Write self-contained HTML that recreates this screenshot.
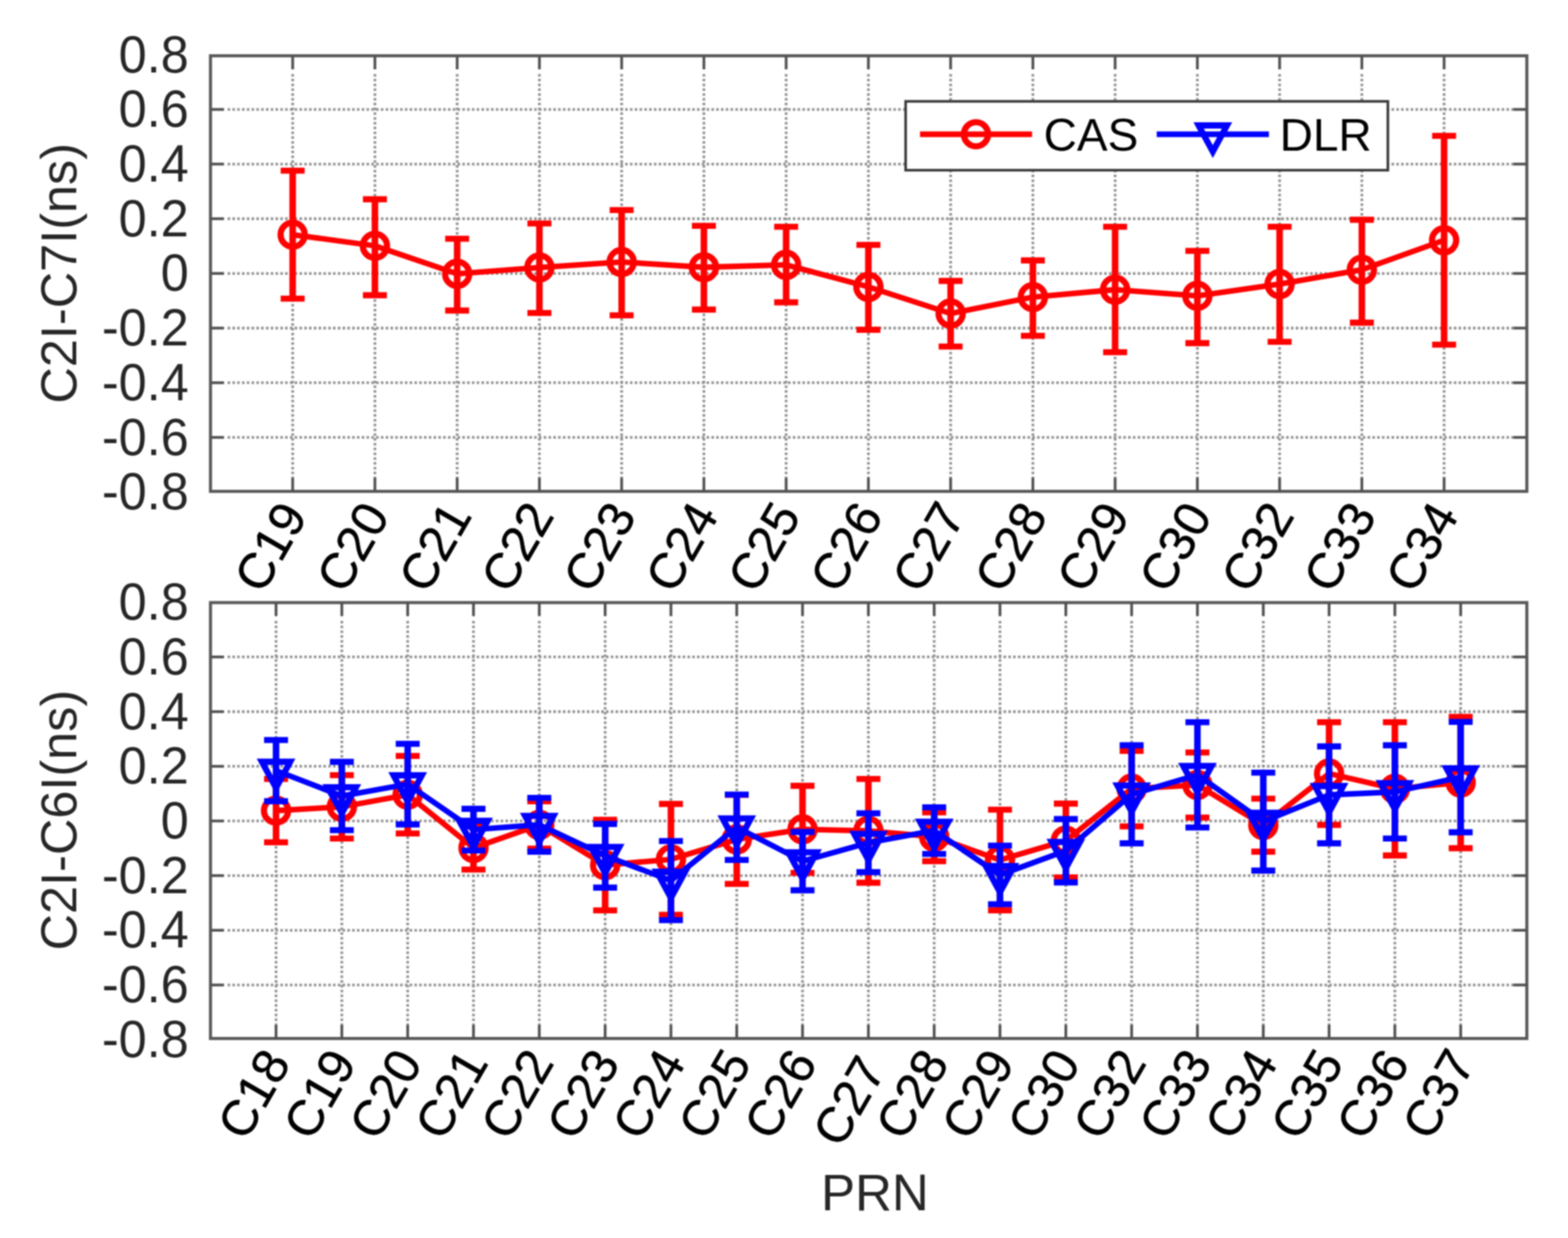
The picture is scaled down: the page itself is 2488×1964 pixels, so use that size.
<!DOCTYPE html>
<html lang="en">
<head>
<meta charset="utf-8">
<title>DCB comparison: C2I-C7I and C2I-C6I by PRN</title>
<style>
html,body{margin:0;padding:0;background:#fff;}
body{width:2488px;height:1964px;overflow:hidden;}
svg{display:block;font-family:"Liberation Sans", sans-serif;filter:blur(1.3px);}
</style>
</head>
<body>
<svg width="2488" height="1964" viewBox="0 0 2488 1964">
<rect width="2488" height="1964" fill="#fff"/>
<!-- top panel -->
<g stroke="#929292" stroke-width="4.3" stroke-dasharray="4 3.6" fill="none">
<line x1="361.2" y1="173.6" x2="2401.2" y2="173.6"/>
<line x1="361.2" y1="260.3" x2="2401.2" y2="260.3"/>
<line x1="361.2" y1="347" x2="2401.2" y2="347"/>
<line x1="361.2" y1="433.8" x2="2401.2" y2="433.8"/>
<line x1="361.2" y1="520.5" x2="2401.2" y2="520.5"/>
<line x1="361.2" y1="607.2" x2="2401.2" y2="607.2"/>
<line x1="361.2" y1="693.9" x2="2401.2" y2="693.9"/>
<line x1="464.4" y1="117.5" x2="464.4" y2="758"/>
<line x1="594.9" y1="117.5" x2="594.9" y2="758"/>
<line x1="725.4" y1="117.5" x2="725.4" y2="758"/>
<line x1="855.9" y1="117.5" x2="855.9" y2="758"/>
<line x1="986.4" y1="117.5" x2="986.4" y2="758"/>
<line x1="1116.9" y1="117.5" x2="1116.9" y2="758"/>
<line x1="1247.4" y1="117.5" x2="1247.4" y2="758"/>
<line x1="1377.9" y1="117.5" x2="1377.9" y2="758"/>
<line x1="1508.4" y1="117.5" x2="1508.4" y2="758"/>
<line x1="1638.9" y1="117.5" x2="1638.9" y2="758"/>
<line x1="1769.4" y1="117.5" x2="1769.4" y2="758"/>
<line x1="1899.9" y1="117.5" x2="1899.9" y2="758"/>
<line x1="2030.4" y1="117.5" x2="2030.4" y2="758"/>
<line x1="2160.9" y1="117.5" x2="2160.9" y2="758"/>
<line x1="2291.4" y1="117.5" x2="2291.4" y2="758"/>
</g>
<rect x="334" y="88.5" width="2088.7" height="691" stroke="#595959" stroke-width="4.9" fill="none"/>
<g stroke="#525252" stroke-width="4.4" fill="none">
<line x1="334" y1="173.6" x2="355.5" y2="173.6"/>
<line x1="2401.2" y1="173.6" x2="2422.7" y2="173.6"/>
<line x1="334" y1="260.3" x2="355.5" y2="260.3"/>
<line x1="2401.2" y1="260.3" x2="2422.7" y2="260.3"/>
<line x1="334" y1="347" x2="355.5" y2="347"/>
<line x1="2401.2" y1="347" x2="2422.7" y2="347"/>
<line x1="334" y1="433.8" x2="355.5" y2="433.8"/>
<line x1="2401.2" y1="433.8" x2="2422.7" y2="433.8"/>
<line x1="334" y1="520.5" x2="355.5" y2="520.5"/>
<line x1="2401.2" y1="520.5" x2="2422.7" y2="520.5"/>
<line x1="334" y1="607.2" x2="355.5" y2="607.2"/>
<line x1="2401.2" y1="607.2" x2="2422.7" y2="607.2"/>
<line x1="334" y1="693.9" x2="355.5" y2="693.9"/>
<line x1="2401.2" y1="693.9" x2="2422.7" y2="693.9"/>
<line x1="464.4" y1="88.5" x2="464.4" y2="110"/>
<line x1="464.4" y1="758" x2="464.4" y2="779.5"/>
<line x1="594.9" y1="88.5" x2="594.9" y2="110"/>
<line x1="594.9" y1="758" x2="594.9" y2="779.5"/>
<line x1="725.4" y1="88.5" x2="725.4" y2="110"/>
<line x1="725.4" y1="758" x2="725.4" y2="779.5"/>
<line x1="855.9" y1="88.5" x2="855.9" y2="110"/>
<line x1="855.9" y1="758" x2="855.9" y2="779.5"/>
<line x1="986.4" y1="88.5" x2="986.4" y2="110"/>
<line x1="986.4" y1="758" x2="986.4" y2="779.5"/>
<line x1="1116.9" y1="88.5" x2="1116.9" y2="110"/>
<line x1="1116.9" y1="758" x2="1116.9" y2="779.5"/>
<line x1="1247.4" y1="88.5" x2="1247.4" y2="110"/>
<line x1="1247.4" y1="758" x2="1247.4" y2="779.5"/>
<line x1="1377.9" y1="88.5" x2="1377.9" y2="110"/>
<line x1="1377.9" y1="758" x2="1377.9" y2="779.5"/>
<line x1="1508.4" y1="88.5" x2="1508.4" y2="110"/>
<line x1="1508.4" y1="758" x2="1508.4" y2="779.5"/>
<line x1="1638.9" y1="88.5" x2="1638.9" y2="110"/>
<line x1="1638.9" y1="758" x2="1638.9" y2="779.5"/>
<line x1="1769.4" y1="88.5" x2="1769.4" y2="110"/>
<line x1="1769.4" y1="758" x2="1769.4" y2="779.5"/>
<line x1="1899.9" y1="88.5" x2="1899.9" y2="110"/>
<line x1="1899.9" y1="758" x2="1899.9" y2="779.5"/>
<line x1="2030.4" y1="88.5" x2="2030.4" y2="110"/>
<line x1="2030.4" y1="758" x2="2030.4" y2="779.5"/>
<line x1="2160.9" y1="88.5" x2="2160.9" y2="110"/>
<line x1="2160.9" y1="758" x2="2160.9" y2="779.5"/>
<line x1="2291.4" y1="88.5" x2="2291.4" y2="110"/>
<line x1="2291.4" y1="758" x2="2291.4" y2="779.5"/>
</g>
<g stroke="#ff0000" stroke-width="9.0" fill="none" stroke-linejoin="miter">
<path stroke-width="10.4" d="M464.4 270.8V473.7M594.9 316.1V468.4M725.4 378.8V492.6M855.9 354.5V496.5M986.4 333.2V500.3M1116.9 358.3V491.1M1247.4 359.8V479.6M1377.9 388.5V523.1M1508.4 445.6V549.7M1638.9 413.1V532.8M1769.4 359.8V558.8M1899.9 398V544.4M2030.4 359.8V542.3M2160.9 348.6V511.9M2291.4 215.5V546.8"/>
<path stroke-width="9.6" d="M445.4 270.8h38M445.4 473.7h38M575.9 316.1h38M575.9 468.4h38M706.4 378.8h38M706.4 492.6h38M836.9 354.5h38M836.9 496.5h38M967.4 333.2h38M967.4 500.3h38M1097.9 358.3h38M1097.9 491.1h38M1228.4 359.8h38M1228.4 479.6h38M1358.9 388.5h38M1358.9 523.1h38M1489.4 445.6h38M1489.4 549.7h38M1619.9 413.1h38M1619.9 532.8h38M1750.4 359.8h38M1750.4 558.8h38M1880.9 398h38M1880.9 544.4h38M2011.4 359.8h38M2011.4 542.3h38M2141.9 348.6h38M2141.9 511.9h38M2272.4 215.5h38M2272.4 546.8h38"/>
<polyline points="464.4,372.3 594.9,390 725.4,434.4 855.9,424.3 986.4,415.7 1116.9,424 1247.4,420.2 1377.9,455.1 1508.4,497.4 1638.9,471.3 1769.4,459.5 1899.9,469.3 2030.4,450.6 2160.9,427.9 2291.4,381.1" stroke-width="8.8" stroke-linejoin="round"/>
<circle cx="464.4" cy="372.3" r="19.2" stroke-width="9.8"/>
<circle cx="594.9" cy="390" r="19.2" stroke-width="9.8"/>
<circle cx="725.4" cy="434.4" r="19.2" stroke-width="9.8"/>
<circle cx="855.9" cy="424.3" r="19.2" stroke-width="9.8"/>
<circle cx="986.4" cy="415.7" r="19.2" stroke-width="9.8"/>
<circle cx="1116.9" cy="424" r="19.2" stroke-width="9.8"/>
<circle cx="1247.4" cy="420.2" r="19.2" stroke-width="9.8"/>
<circle cx="1377.9" cy="455.1" r="19.2" stroke-width="9.8"/>
<circle cx="1508.4" cy="497.4" r="19.2" stroke-width="9.8"/>
<circle cx="1638.9" cy="471.3" r="19.2" stroke-width="9.8"/>
<circle cx="1769.4" cy="459.5" r="19.2" stroke-width="9.8"/>
<circle cx="1899.9" cy="469.3" r="19.2" stroke-width="9.8"/>
<circle cx="2030.4" cy="450.6" r="19.2" stroke-width="9.8"/>
<circle cx="2160.9" cy="427.9" r="19.2" stroke-width="9.8"/>
<circle cx="2291.4" cy="381.1" r="19.2" stroke-width="9.8"/>
</g>
<rect x="1437" y="160.8" width="765.2" height="109.2" fill="#fff" stroke="#3c3c3c" stroke-width="4.2"/>
<g fill="none" stroke-width="9.0">
<path stroke="#ff0000" d="M1459.8 213H1637.6"/><circle stroke="#ff0000" stroke-width="9.8" cx="1548.6" cy="213" r="19.2"/>
<path stroke="#0000ff" d="M1835.4 213H2013.4"/><path stroke="#0000ff" stroke-width="9.8" d="M1901.9 199h45L1924.4 240.5Z"/>
</g>
<g fill="#000" font-size="73"><text x="1656" y="238.8">CAS</text><text x="2030.5" y="238.8">DLR</text></g>
<g class="yt" fill="#262626" font-size="80" text-anchor="end">
<text transform="translate(299.5,114.5) scale(1,1.035)">0.8</text>
<text transform="translate(299.5,201.2) scale(1,1.035)">0.6</text>
<text transform="translate(299.5,287.9) scale(1,1.035)">0.4</text>
<text transform="translate(299.5,374.6) scale(1,1.035)">0.2</text>
<text transform="translate(299.5,461.4) scale(1,1.035)">0</text>
<text transform="translate(299.5,548.1) scale(1,1.035)">-0.2</text>
<text transform="translate(299.5,634.8) scale(1,1.035)">-0.4</text>
<text transform="translate(299.5,721.5) scale(1,1.035)">-0.6</text>
<text transform="translate(299.5,808.3) scale(1,1.035)">-0.8</text>
</g>
<g class="xt" fill="#000000" stroke="#000000" stroke-width="0.7" stroke-linejoin="round" font-size="79" letter-spacing="0.6" text-anchor="end">
<text transform="translate(465,803.3) rotate(-60)" y="28.3">C19</text>
<text transform="translate(595.5,803.3) rotate(-60)" y="28.3">C20</text>
<text transform="translate(726,803.3) rotate(-60)" y="28.3">C21</text>
<text transform="translate(856.5,803.3) rotate(-60)" y="28.3">C22</text>
<text transform="translate(987,803.3) rotate(-60)" y="28.3">C23</text>
<text transform="translate(1117.5,803.3) rotate(-60)" y="28.3">C24</text>
<text transform="translate(1248,803.3) rotate(-60)" y="28.3">C25</text>
<text transform="translate(1378.5,803.3) rotate(-60)" y="28.3">C26</text>
<text transform="translate(1509,803.3) rotate(-60)" y="28.3">C27</text>
<text transform="translate(1639.5,803.3) rotate(-60)" y="28.3">C28</text>
<text transform="translate(1770,803.3) rotate(-60)" y="28.3">C29</text>
<text transform="translate(1900.5,803.3) rotate(-60)" y="28.3">C30</text>
<text transform="translate(2031,803.3) rotate(-60)" y="28.3">C32</text>
<text transform="translate(2161.5,803.3) rotate(-60)" y="28.3">C33</text>
<text transform="translate(2292,803.3) rotate(-60)" y="28.3">C34</text>
</g>
<text class="yl" fill="#262626" font-size="80" text-anchor="middle" transform="translate(121.2,433.5) rotate(-90)">C2I-C7I(ns)</text>
<!-- bottom panel -->
<g stroke="#929292" stroke-width="4.3" stroke-dasharray="4 3.6" fill="none">
<line x1="361.2" y1="1042.2" x2="2401.2" y2="1042.2"/>
<line x1="361.2" y1="1129" x2="2401.2" y2="1129"/>
<line x1="361.2" y1="1215.7" x2="2401.2" y2="1215.7"/>
<line x1="361.2" y1="1302.4" x2="2401.2" y2="1302.4"/>
<line x1="361.2" y1="1389.1" x2="2401.2" y2="1389.1"/>
<line x1="361.2" y1="1475.8" x2="2401.2" y2="1475.8"/>
<line x1="361.2" y1="1562.6" x2="2401.2" y2="1562.6"/>
<line x1="438" y1="985" x2="438" y2="1626"/>
<line x1="542.4" y1="985" x2="542.4" y2="1626"/>
<line x1="646.9" y1="985" x2="646.9" y2="1626"/>
<line x1="751.3" y1="985" x2="751.3" y2="1626"/>
<line x1="855.7" y1="985" x2="855.7" y2="1626"/>
<line x1="960.2" y1="985" x2="960.2" y2="1626"/>
<line x1="1064.6" y1="985" x2="1064.6" y2="1626"/>
<line x1="1169" y1="985" x2="1169" y2="1626"/>
<line x1="1273.4" y1="985" x2="1273.4" y2="1626"/>
<line x1="1377.9" y1="985" x2="1377.9" y2="1626"/>
<line x1="1482.3" y1="985" x2="1482.3" y2="1626"/>
<line x1="1586.7" y1="985" x2="1586.7" y2="1626"/>
<line x1="1691.2" y1="985" x2="1691.2" y2="1626"/>
<line x1="1795.6" y1="985" x2="1795.6" y2="1626"/>
<line x1="1900" y1="985" x2="1900" y2="1626"/>
<line x1="2004.5" y1="985" x2="2004.5" y2="1626"/>
<line x1="2108.9" y1="985" x2="2108.9" y2="1626"/>
<line x1="2213.3" y1="985" x2="2213.3" y2="1626"/>
<line x1="2317.7" y1="985" x2="2317.7" y2="1626"/>
</g>
<rect x="334" y="956" width="2088.7" height="691.5" stroke="#595959" stroke-width="4.9" fill="none"/>
<g stroke="#525252" stroke-width="4.4" fill="none">
<line x1="334" y1="1042.2" x2="355.5" y2="1042.2"/>
<line x1="2401.2" y1="1042.2" x2="2422.7" y2="1042.2"/>
<line x1="334" y1="1129" x2="355.5" y2="1129"/>
<line x1="2401.2" y1="1129" x2="2422.7" y2="1129"/>
<line x1="334" y1="1215.7" x2="355.5" y2="1215.7"/>
<line x1="2401.2" y1="1215.7" x2="2422.7" y2="1215.7"/>
<line x1="334" y1="1302.4" x2="355.5" y2="1302.4"/>
<line x1="2401.2" y1="1302.4" x2="2422.7" y2="1302.4"/>
<line x1="334" y1="1389.1" x2="355.5" y2="1389.1"/>
<line x1="2401.2" y1="1389.1" x2="2422.7" y2="1389.1"/>
<line x1="334" y1="1475.8" x2="355.5" y2="1475.8"/>
<line x1="2401.2" y1="1475.8" x2="2422.7" y2="1475.8"/>
<line x1="334" y1="1562.6" x2="355.5" y2="1562.6"/>
<line x1="2401.2" y1="1562.6" x2="2422.7" y2="1562.6"/>
<line x1="438" y1="956" x2="438" y2="977.5"/>
<line x1="438" y1="1626" x2="438" y2="1647.5"/>
<line x1="542.4" y1="956" x2="542.4" y2="977.5"/>
<line x1="542.4" y1="1626" x2="542.4" y2="1647.5"/>
<line x1="646.9" y1="956" x2="646.9" y2="977.5"/>
<line x1="646.9" y1="1626" x2="646.9" y2="1647.5"/>
<line x1="751.3" y1="956" x2="751.3" y2="977.5"/>
<line x1="751.3" y1="1626" x2="751.3" y2="1647.5"/>
<line x1="855.7" y1="956" x2="855.7" y2="977.5"/>
<line x1="855.7" y1="1626" x2="855.7" y2="1647.5"/>
<line x1="960.2" y1="956" x2="960.2" y2="977.5"/>
<line x1="960.2" y1="1626" x2="960.2" y2="1647.5"/>
<line x1="1064.6" y1="956" x2="1064.6" y2="977.5"/>
<line x1="1064.6" y1="1626" x2="1064.6" y2="1647.5"/>
<line x1="1169" y1="956" x2="1169" y2="977.5"/>
<line x1="1169" y1="1626" x2="1169" y2="1647.5"/>
<line x1="1273.4" y1="956" x2="1273.4" y2="977.5"/>
<line x1="1273.4" y1="1626" x2="1273.4" y2="1647.5"/>
<line x1="1377.9" y1="956" x2="1377.9" y2="977.5"/>
<line x1="1377.9" y1="1626" x2="1377.9" y2="1647.5"/>
<line x1="1482.3" y1="956" x2="1482.3" y2="977.5"/>
<line x1="1482.3" y1="1626" x2="1482.3" y2="1647.5"/>
<line x1="1586.7" y1="956" x2="1586.7" y2="977.5"/>
<line x1="1586.7" y1="1626" x2="1586.7" y2="1647.5"/>
<line x1="1691.2" y1="956" x2="1691.2" y2="977.5"/>
<line x1="1691.2" y1="1626" x2="1691.2" y2="1647.5"/>
<line x1="1795.6" y1="956" x2="1795.6" y2="977.5"/>
<line x1="1795.6" y1="1626" x2="1795.6" y2="1647.5"/>
<line x1="1900" y1="956" x2="1900" y2="977.5"/>
<line x1="1900" y1="1626" x2="1900" y2="1647.5"/>
<line x1="2004.5" y1="956" x2="2004.5" y2="977.5"/>
<line x1="2004.5" y1="1626" x2="2004.5" y2="1647.5"/>
<line x1="2108.9" y1="956" x2="2108.9" y2="977.5"/>
<line x1="2108.9" y1="1626" x2="2108.9" y2="1647.5"/>
<line x1="2213.3" y1="956" x2="2213.3" y2="977.5"/>
<line x1="2213.3" y1="1626" x2="2213.3" y2="1647.5"/>
<line x1="2317.7" y1="956" x2="2317.7" y2="977.5"/>
<line x1="2317.7" y1="1626" x2="2317.7" y2="1647.5"/>
</g>
<g stroke="#ff0000" stroke-width="9.0" fill="none" stroke-linejoin="miter">
<path stroke-width="10.4" d="M438 1235.8V1336.2M542.4 1229.8V1330.2M646.9 1199.2V1322.3M751.3 1310.7V1379.5M855.7 1271.1V1346.3M960.2 1300.6V1444.3M1064.6 1275.4V1451.3M1169 1261V1402.3M1273.4 1246.6V1384.8M1377.9 1235.8V1400.4M1482.3 1288.6V1366.2M1586.7 1284.5V1444.1M1691.2 1274.9V1392M1795.6 1191.3V1311M1900 1193.7V1297M2004.5 1267V1351.1M2108.9 1145.7V1308.6M2213.3 1145.7V1357.1M2317.7 1137.2V1345.6"/>
<path stroke-width="9.6" d="M419 1235.8h38M419 1336.2h38M523.4 1229.8h38M523.4 1330.2h38M627.9 1199.2h38M627.9 1322.3h38M732.3 1310.7h38M732.3 1379.5h38M836.7 1271.1h38M836.7 1346.3h38M941.2 1300.6h38M941.2 1444.3h38M1045.6 1275.4h38M1045.6 1451.3h38M1150 1261h38M1150 1402.3h38M1254.4 1246.6h38M1254.4 1384.8h38M1358.9 1235.8h38M1358.9 1400.4h38M1463.3 1288.6h38M1463.3 1366.2h38M1567.7 1284.5h38M1567.7 1444.1h38M1672.2 1274.9h38M1672.2 1392h38M1776.6 1191.3h38M1776.6 1311h38M1881 1193.7h38M1881 1297h38M1985.5 1267h38M1985.5 1351.1h38M2089.9 1145.7h38M2089.9 1308.6h38M2194.3 1145.7h38M2194.3 1357.1h38M2298.7 1137.2h38M2298.7 1345.6h38"/>
<polyline points="438,1286 542.4,1280 646.9,1260.8 751.3,1345.1 855.7,1308.7 960.2,1372.4 1064.6,1363.3 1169,1331.7 1273.4,1315.7 1377.9,1318.1 1482.3,1327.4 1586.7,1364.3 1691.2,1333.5 1795.6,1251.2 1900,1245.3 2004.5,1309 2108.9,1227.2 2213.3,1251.4 2317.7,1241.4" stroke-width="8.8" stroke-linejoin="round"/>
<circle cx="438" cy="1286" r="19.2" stroke-width="9.8"/>
<circle cx="542.4" cy="1280" r="19.2" stroke-width="9.8"/>
<circle cx="646.9" cy="1260.8" r="19.2" stroke-width="9.8"/>
<circle cx="751.3" cy="1345.1" r="19.2" stroke-width="9.8"/>
<circle cx="855.7" cy="1308.7" r="19.2" stroke-width="9.8"/>
<circle cx="960.2" cy="1372.4" r="19.2" stroke-width="9.8"/>
<circle cx="1064.6" cy="1363.3" r="19.2" stroke-width="9.8"/>
<circle cx="1169" cy="1331.7" r="19.2" stroke-width="9.8"/>
<circle cx="1273.4" cy="1315.7" r="19.2" stroke-width="9.8"/>
<circle cx="1377.9" cy="1318.1" r="19.2" stroke-width="9.8"/>
<circle cx="1482.3" cy="1327.4" r="19.2" stroke-width="9.8"/>
<circle cx="1586.7" cy="1364.3" r="19.2" stroke-width="9.8"/>
<circle cx="1691.2" cy="1333.5" r="19.2" stroke-width="9.8"/>
<circle cx="1795.6" cy="1251.2" r="19.2" stroke-width="9.8"/>
<circle cx="1900" cy="1245.3" r="19.2" stroke-width="9.8"/>
<circle cx="2004.5" cy="1309" r="19.2" stroke-width="9.8"/>
<circle cx="2108.9" cy="1227.2" r="19.2" stroke-width="9.8"/>
<circle cx="2213.3" cy="1251.4" r="19.2" stroke-width="9.8"/>
<circle cx="2317.7" cy="1241.4" r="19.2" stroke-width="9.8"/>
</g>
<g stroke="#0000ff" stroke-width="9.0" fill="none" stroke-linejoin="miter">
<path stroke-width="10.4" d="M438 1174V1271.1M542.4 1208.6V1317M646.9 1180V1307.9M751.3 1283.1V1349.2M855.7 1265.8V1351.1M960.2 1307.1V1408.1M1064.6 1334.3V1459.7M1169 1260.5V1364.3M1273.4 1319.9V1412.4M1377.9 1290.3V1383.6M1482.3 1280.7V1354.7M1586.7 1341.5V1434.5M1691.2 1299.4V1399.9M1795.6 1182.4V1337.9M1900 1145.7V1312.7M2004.5 1225.7V1381.1M2108.9 1184.1V1337.9M2213.3 1182.4V1330.2M2317.7 1145.2V1320.4"/>
<path stroke-width="9.6" d="M419 1174h38M419 1271.1h38M523.4 1208.6h38M523.4 1317h38M627.9 1180h38M627.9 1307.9h38M732.3 1283.1h38M732.3 1349.2h38M836.7 1265.8h38M836.7 1351.1h38M941.2 1307.1h38M941.2 1408.1h38M1045.6 1334.3h38M1045.6 1459.7h38M1150 1260.5h38M1150 1364.3h38M1254.4 1319.9h38M1254.4 1412.4h38M1358.9 1290.3h38M1358.9 1383.6h38M1463.3 1280.7h38M1463.3 1354.7h38M1567.7 1341.5h38M1567.7 1434.5h38M1672.2 1299.4h38M1672.2 1399.9h38M1776.6 1182.4h38M1776.6 1337.9h38M1881 1145.7h38M1881 1312.7h38M1985.5 1225.7h38M1985.5 1381.1h38M2089.9 1184.1h38M2089.9 1337.9h38M2194.3 1182.4h38M2194.3 1330.2h38M2298.7 1145.2h38M2298.7 1320.4h38"/>
<polyline points="438,1222.5 542.4,1262.8 646.9,1244 751.3,1316.2 855.7,1308.4 960.2,1357.6 1064.6,1397 1169,1312.4 1273.4,1366.2 1377.9,1336.9 1482.3,1317.7 1586.7,1388 1691.2,1349.7 1795.6,1260.2 1900,1229.2 2004.5,1303.4 2108.9,1261 2213.3,1256.3 2317.7,1232.8" stroke-width="8.8" stroke-linejoin="round"/>
<path stroke-width="9.8" d="M415.5 1208.5h45L438 1250Z"/>
<path stroke-width="9.8" d="M519.9 1248.8h45L542.4 1290.3Z"/>
<path stroke-width="9.8" d="M624.4 1230h45L646.9 1271.5Z"/>
<path stroke-width="9.8" d="M728.8 1302.2h45L751.3 1343.7Z"/>
<path stroke-width="9.8" d="M833.2 1294.4h45L855.7 1335.9Z"/>
<path stroke-width="9.8" d="M937.7 1343.6h45L960.2 1385.1Z"/>
<path stroke-width="9.8" d="M1042.1 1383h45L1064.6 1424.5Z"/>
<path stroke-width="9.8" d="M1146.5 1298.4h45L1169 1339.9Z"/>
<path stroke-width="9.8" d="M1250.9 1352.2h45L1273.4 1393.7Z"/>
<path stroke-width="9.8" d="M1355.4 1322.9h45L1377.9 1364.4Z"/>
<path stroke-width="9.8" d="M1459.8 1303.7h45L1482.3 1345.2Z"/>
<path stroke-width="9.8" d="M1564.2 1374h45L1586.7 1415.5Z"/>
<path stroke-width="9.8" d="M1668.7 1335.7h45L1691.2 1377.2Z"/>
<path stroke-width="9.8" d="M1773.1 1246.2h45L1795.6 1287.7Z"/>
<path stroke-width="9.8" d="M1877.5 1215.2h45L1900 1256.7Z"/>
<path stroke-width="9.8" d="M1982 1289.4h45L2004.5 1330.9Z"/>
<path stroke-width="9.8" d="M2086.4 1247h45L2108.9 1288.5Z"/>
<path stroke-width="9.8" d="M2190.8 1242.3h45L2213.3 1283.8Z"/>
<path stroke-width="9.8" d="M2295.2 1218.8h45L2317.7 1260.3Z"/>
</g>
<g class="yt" fill="#262626" font-size="80" text-anchor="end">
<text transform="translate(299.5,983.1) scale(1,1.035)">0.8</text>
<text transform="translate(299.5,1069.8) scale(1,1.035)">0.6</text>
<text transform="translate(299.5,1156.5) scale(1,1.035)">0.4</text>
<text transform="translate(299.5,1243.3) scale(1,1.035)">0.2</text>
<text transform="translate(299.5,1330) scale(1,1.035)">0</text>
<text transform="translate(299.5,1416.7) scale(1,1.035)">-0.2</text>
<text transform="translate(299.5,1503.4) scale(1,1.035)">-0.4</text>
<text transform="translate(299.5,1590.2) scale(1,1.035)">-0.6</text>
<text transform="translate(299.5,1676.9) scale(1,1.035)">-0.8</text>
</g>
<g class="xt" fill="#000000" stroke="#000000" stroke-width="0.7" stroke-linejoin="round" font-size="79" letter-spacing="0.6" text-anchor="end">
<text transform="translate(438.6,1671.3) rotate(-60)" y="28.3">C18</text>
<text transform="translate(543,1671.3) rotate(-60)" y="28.3">C19</text>
<text transform="translate(647.5,1671.3) rotate(-60)" y="28.3">C20</text>
<text transform="translate(751.9,1671.3) rotate(-60)" y="28.3">C21</text>
<text transform="translate(856.3,1671.3) rotate(-60)" y="28.3">C22</text>
<text transform="translate(960.8,1671.3) rotate(-60)" y="28.3">C23</text>
<text transform="translate(1065.2,1671.3) rotate(-60)" y="28.3">C24</text>
<text transform="translate(1169.6,1671.3) rotate(-60)" y="28.3">C25</text>
<text transform="translate(1274,1671.3) rotate(-60)" y="28.3">C26</text>
<text transform="translate(1383,1682.3) rotate(-60)" y="28.3">C27</text>
<text transform="translate(1482.9,1671.3) rotate(-60)" y="28.3">C28</text>
<text transform="translate(1587.3,1671.3) rotate(-60)" y="28.3">C29</text>
<text transform="translate(1691.8,1671.3) rotate(-60)" y="28.3">C30</text>
<text transform="translate(1796.2,1671.3) rotate(-60)" y="28.3">C32</text>
<text transform="translate(1900.6,1671.3) rotate(-60)" y="28.3">C33</text>
<text transform="translate(2005,1671.3) rotate(-60)" y="28.3">C34</text>
<text transform="translate(2109.5,1671.3) rotate(-60)" y="28.3">C35</text>
<text transform="translate(2213.9,1671.3) rotate(-60)" y="28.3">C36</text>
<text transform="translate(2318.3,1671.3) rotate(-60)" y="28.3">C37</text>
</g>
<text class="yl" fill="#262626" font-size="80" text-anchor="middle" transform="translate(121.2,1301) rotate(-90)">C2I-C6I(ns)</text>
<text fill="#262626" font-size="81" text-anchor="middle" x="1388.3" y="1920">PRN</text>
</svg>
</body>
</html>
